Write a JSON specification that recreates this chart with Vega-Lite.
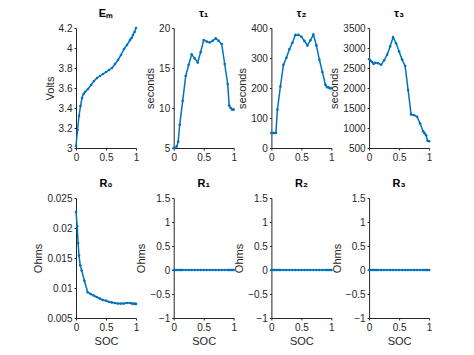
{
  "$schema": "https://vega.github.io/schema/vega-lite/v6.json",
  "background": "white",
  "padding": {"left": 32, "top": 8, "right": 5, "bottom": 5},
  "bounds": "flush",
  "columns": 4,
  "spacing": {"row": 50, "column": 37.7},
  "datasets": {
    "Em": [
      {"soc": 0, "v": 3.02}, {"soc": 0.025, "v": 3.18}, {"soc": 0.05, "v": 3.32}, {"soc": 0.075, "v": 3.42},
      {"soc": 0.1, "v": 3.5}, {"soc": 0.125, "v": 3.54}, {"soc": 0.15, "v": 3.56}, {"soc": 0.2, "v": 3.59},
      {"soc": 0.25, "v": 3.63}, {"soc": 0.3, "v": 3.67}, {"soc": 0.35, "v": 3.7}, {"soc": 0.4, "v": 3.72},
      {"soc": 0.45, "v": 3.74}, {"soc": 0.5, "v": 3.76}, {"soc": 0.55, "v": 3.78}, {"soc": 0.6, "v": 3.8},
      {"soc": 0.65, "v": 3.84}, {"soc": 0.7, "v": 3.88}, {"soc": 0.75, "v": 3.93}, {"soc": 0.8, "v": 3.99},
      {"soc": 0.85, "v": 4.03}, {"soc": 0.9, "v": 4.08}, {"soc": 0.925, "v": 4.1}, {"soc": 0.95, "v": 4.13},
      {"soc": 0.975, "v": 4.16}, {"soc": 1, "v": 4.2}
    ],
    "T1": [
      {"soc": 0, "v": 5.0}, {"soc": 0.025, "v": 5.0}, {"soc": 0.05, "v": 5.2}, {"soc": 0.075, "v": 5.8},
      {"soc": 0.1, "v": 7.9}, {"soc": 0.15, "v": 10.9}, {"soc": 0.2, "v": 14.0}, {"soc": 0.25, "v": 15.4},
      {"soc": 0.3, "v": 16.7}, {"soc": 0.35, "v": 16.2}, {"soc": 0.4, "v": 15.7}, {"soc": 0.45, "v": 17.0},
      {"soc": 0.5, "v": 18.5}, {"soc": 0.55, "v": 18.3}, {"soc": 0.6, "v": 18.2}, {"soc": 0.65, "v": 18.4},
      {"soc": 0.7, "v": 18.7}, {"soc": 0.75, "v": 18.4}, {"soc": 0.8, "v": 18.0}, {"soc": 0.85, "v": 15.5},
      {"soc": 0.9, "v": 13.0}, {"soc": 0.925, "v": 10.3}, {"soc": 0.95, "v": 10.0}, {"soc": 0.975, "v": 9.8},
      {"soc": 1, "v": 9.8}
    ],
    "T2": [
      {"soc": 0, "v": 50}, {"soc": 0.025, "v": 50}, {"soc": 0.05, "v": 50}, {"soc": 0.075, "v": 50},
      {"soc": 0.1, "v": 128}, {"soc": 0.15, "v": 205}, {"soc": 0.2, "v": 277}, {"soc": 0.25, "v": 301},
      {"soc": 0.3, "v": 329}, {"soc": 0.35, "v": 351}, {"soc": 0.4, "v": 377}, {"soc": 0.45, "v": 377},
      {"soc": 0.5, "v": 371}, {"soc": 0.55, "v": 357}, {"soc": 0.6, "v": 342}, {"soc": 0.65, "v": 359},
      {"soc": 0.7, "v": 378}, {"soc": 0.75, "v": 342}, {"soc": 0.8, "v": 294}, {"soc": 0.85, "v": 253},
      {"soc": 0.9, "v": 211}, {"soc": 0.925, "v": 203}, {"soc": 0.95, "v": 202}, {"soc": 0.975, "v": 199},
      {"soc": 1, "v": 199}
    ],
    "T3": [
      {"soc": 0, "v": 2720}, {"soc": 0.025, "v": 2680}, {"soc": 0.05, "v": 2650}, {"soc": 0.075, "v": 2600},
      {"soc": 0.1, "v": 2630}, {"soc": 0.15, "v": 2620}, {"soc": 0.2, "v": 2580}, {"soc": 0.25, "v": 2690},
      {"soc": 0.3, "v": 2830}, {"soc": 0.35, "v": 3040}, {"soc": 0.4, "v": 3270}, {"soc": 0.45, "v": 3120},
      {"soc": 0.5, "v": 2910}, {"soc": 0.55, "v": 2710}, {"soc": 0.6, "v": 2550}, {"soc": 0.65, "v": 1950},
      {"soc": 0.7, "v": 1340}, {"soc": 0.75, "v": 1320}, {"soc": 0.8, "v": 1280}, {"soc": 0.85, "v": 1110},
      {"soc": 0.9, "v": 920}, {"soc": 0.925, "v": 870}, {"soc": 0.95, "v": 820}, {"soc": 0.975, "v": 680},
      {"soc": 1, "v": 670}
    ],
    "R0": [
      {"soc": 0, "v": 0.0227}, {"soc": 0.02, "v": 0.0203}, {"soc": 0.035, "v": 0.0175}, {"soc": 0.05, "v": 0.0154},
      {"soc": 0.07, "v": 0.0138}, {"soc": 0.095, "v": 0.0129}, {"soc": 0.14, "v": 0.0112}, {"soc": 0.195, "v": 0.0093},
      {"soc": 0.245, "v": 0.0090}, {"soc": 0.295, "v": 0.00875}, {"soc": 0.345, "v": 0.0085}, {"soc": 0.395, "v": 0.00825},
      {"soc": 0.445, "v": 0.0080}, {"soc": 0.495, "v": 0.0079}, {"soc": 0.545, "v": 0.0077}, {"soc": 0.595, "v": 0.0076},
      {"soc": 0.645, "v": 0.0075}, {"soc": 0.695, "v": 0.0074}, {"soc": 0.745, "v": 0.0074}, {"soc": 0.795, "v": 0.0074},
      {"soc": 0.845, "v": 0.0075}, {"soc": 0.9, "v": 0.0075}, {"soc": 0.93, "v": 0.0074}, {"soc": 0.96, "v": 0.0074},
      {"soc": 0.985, "v": 0.00735}, {"soc": 1, "v": 0.00735}
    ],
    "Rz": [
      {"soc": 0, "v": 0}, {"soc": 0.025, "v": 0}, {"soc": 0.05, "v": 0}, {"soc": 0.075, "v": 0},
      {"soc": 0.1, "v": 0}, {"soc": 0.125, "v": 0}, {"soc": 0.15, "v": 0}, {"soc": 0.2, "v": 0},
      {"soc": 0.25, "v": 0}, {"soc": 0.3, "v": 0}, {"soc": 0.35, "v": 0}, {"soc": 0.4, "v": 0},
      {"soc": 0.45, "v": 0}, {"soc": 0.5, "v": 0}, {"soc": 0.55, "v": 0}, {"soc": 0.6, "v": 0},
      {"soc": 0.65, "v": 0}, {"soc": 0.7, "v": 0}, {"soc": 0.75, "v": 0}, {"soc": 0.8, "v": 0},
      {"soc": 0.85, "v": 0}, {"soc": 0.9, "v": 0}, {"soc": 0.925, "v": 0}, {"soc": 0.95, "v": 0},
      {"soc": 0.975, "v": 0}, {"soc": 1, "v": 0}
    ]
  },
  "concat": [
    {
      "title": "Eₘ", "width": 60, "height": 120, "data": {"name": "Em"},
      "encoding": {
        "x": {"field": "soc", "type": "quantitative", "scale": {"domain": [0, 1]}, "axis": {"values": [0, 0.5, 1], "title": null}},
        "y": {"field": "v", "type": "quantitative", "scale": {"domain": [3, 4.2]}, "axis": {"values": [3, 3.2, 3.4, 3.6, 3.8, 4, 4.2], "title": "Volts"}}
      },
      "layer": [{"mark": "line"}, {"mark": "point"}]
    },
    {
      "title": "τ₁", "width": 60, "height": 120, "data": {"name": "T1"},
      "encoding": {
        "x": {"field": "soc", "type": "quantitative", "scale": {"domain": [0, 1]}, "axis": {"values": [0, 0.5, 1], "title": null}},
        "y": {"field": "v", "type": "quantitative", "scale": {"domain": [5, 20]}, "axis": {"values": [5, 10, 15, 20], "title": "seconds"}}
      },
      "layer": [{"mark": "line"}, {"mark": "point"}]
    },
    {
      "title": "τ₂", "width": 60, "height": 120, "data": {"name": "T2"},
      "encoding": {
        "x": {"field": "soc", "type": "quantitative", "scale": {"domain": [0, 1]}, "axis": {"values": [0, 0.5, 1], "title": null}},
        "y": {"field": "v", "type": "quantitative", "scale": {"domain": [0, 400]}, "axis": {"values": [0, 100, 200, 300, 400], "title": "seconds"}}
      },
      "layer": [{"mark": "line"}, {"mark": "point"}]
    },
    {
      "title": "τ₃", "width": 60, "height": 120, "data": {"name": "T3"},
      "encoding": {
        "x": {"field": "soc", "type": "quantitative", "scale": {"domain": [0, 1]}, "axis": {"values": [0, 0.5, 1], "title": null}},
        "y": {"field": "v", "type": "quantitative", "scale": {"domain": [500, 3500]}, "axis": {"values": [500, 1000, 1500, 2000, 2500, 3000, 3500], "title": "seconds"}}
      },
      "layer": [{"mark": "line"}, {"mark": "point"}]
    },
    {
      "title": "R₀", "width": 60, "height": 120, "data": {"name": "R0"},
      "encoding": {
        "x": {"field": "soc", "type": "quantitative", "scale": {"domain": [0, 1]}, "axis": {"values": [0, 0.5, 1], "title": "SOC"}},
        "y": {"field": "v", "type": "quantitative", "scale": {"domain": [0.005, 0.025]}, "axis": {"values": [0.005, 0.01, 0.015, 0.02, 0.025], "title": "Ohms"}}
      },
      "layer": [{"mark": "line"}, {"mark": "point"}]
    },
    {
      "title": "R₁", "width": 60, "height": 120, "data": {"name": "Rz"},
      "encoding": {
        "x": {"field": "soc", "type": "quantitative", "scale": {"domain": [0, 1]}, "axis": {"values": [0, 0.5, 1], "title": "SOC"}},
        "y": {"field": "v", "type": "quantitative", "scale": {"domain": [-1, 1.5]}, "axis": {"values": [-1, -0.5, 0, 0.5, 1, 1.5], "title": "Ohms"}}
      },
      "layer": [{"mark": "line"}, {"mark": "point"}]
    },
    {
      "title": "R₂", "width": 60, "height": 120, "data": {"name": "Rz"},
      "encoding": {
        "x": {"field": "soc", "type": "quantitative", "scale": {"domain": [0, 1]}, "axis": {"values": [0, 0.5, 1], "title": "SOC"}},
        "y": {"field": "v", "type": "quantitative", "scale": {"domain": [-1, 1.5]}, "axis": {"values": [-1, -0.5, 0, 0.5, 1, 1.5], "title": "Ohms"}}
      },
      "layer": [{"mark": "line"}, {"mark": "point"}]
    },
    {
      "title": "R₃", "width": 60, "height": 120, "data": {"name": "Rz"},
      "encoding": {
        "x": {"field": "soc", "type": "quantitative", "scale": {"domain": [0, 1]}, "axis": {"values": [0, 0.5, 1], "title": "SOC"}},
        "y": {"field": "v", "type": "quantitative", "scale": {"domain": [-1, 1.5]}, "axis": {"values": [-1, -0.5, 0, 0.5, 1, 1.5], "title": "Ohms"}}
      },
      "layer": [{"mark": "line"}, {"mark": "point"}]
    }
  ],
  "config": {
    "font": "Liberation Sans",
    "view": {"stroke": null},
    "axis": {
      "grid": false,
      "format": "~r",
      "domainColor": "#262626",
      "domainWidth": 1,
      "tickColor": "#262626",
      "tickSize": 2,
      "labelColor": "#262626",
      "labelFont": "Liberation Sans",
      "labelFontSize": 10,
      "labelPadding": 2,
      "labelFlush": false,
      "labelOverlap": false,
      "titleColor": "#262626",
      "titleFont": "Liberation Sans",
      "titleFontSize": 11,
      "titleFontWeight": "normal",
      "titlePadding": 3
    },
    "title": {"font": "Liberation Sans", "fontSize": 11, "fontWeight": "bold", "color": "#000000", "offset": 4},
    "line": {"color": "#0072BD", "strokeWidth": 1.5},
    "point": {"color": "#0072BD", "filled": true, "size": 7, "opacity": 1}
  }
}
